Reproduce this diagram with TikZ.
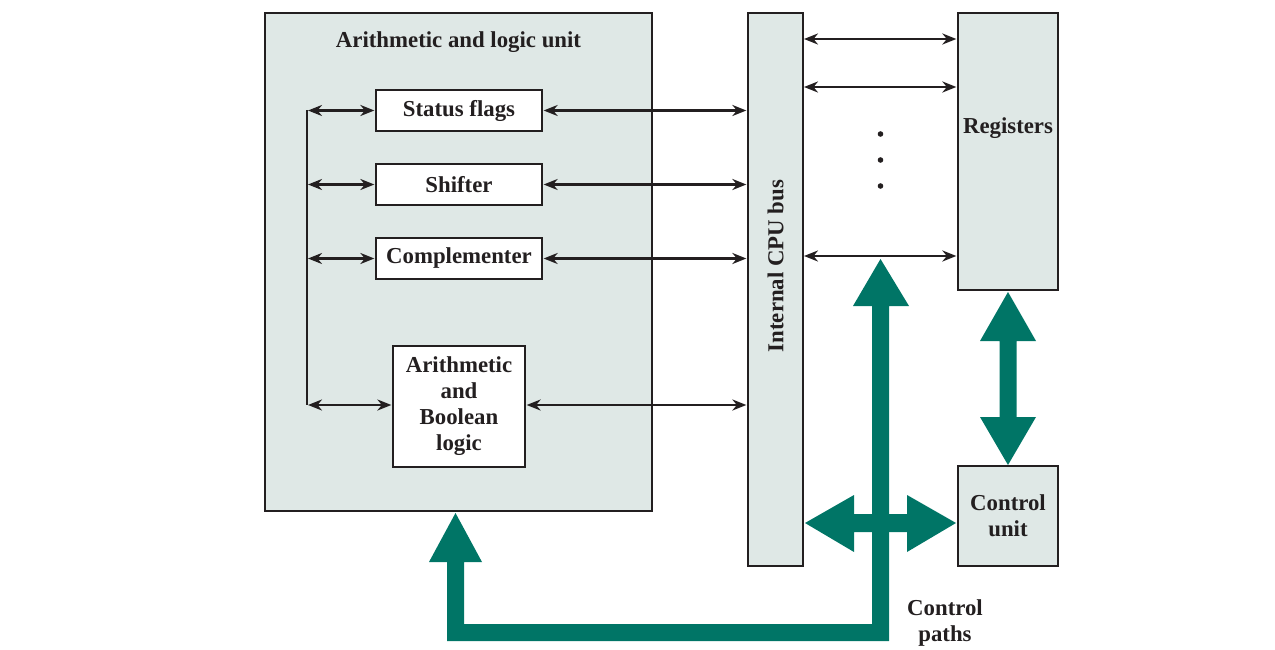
\documentclass[tikz,border=0pt]{standalone}
\usepackage{fontspec}
\setmainfont{Liberation Serif}
\usetikzlibrary{arrows.meta}
\definecolor{panel}{HTML}{DFE8E6}
\definecolor{ctrl}{HTML}{007566}
\definecolor{ink}{HTML}{231F20}
\begin{document}
\begin{tikzpicture}[x=1pt,y=-1pt,
  every node/.style={font=\fontsize{22.8}{26}\selectfont\bfseries, text=ink},
  blk/.style={draw=ink, line width=1.3pt, inner sep=0pt, align=center},
  gray/.style={blk, fill=panel},
  white/.style={blk, fill=white},
  bi/.style={ink, line width=2.2pt, {Stealth[length=14pt,width=11pt,inset=4.5pt]}-{Stealth[length=14pt,width=11pt,inset=4.5pt]}, shorten <=1pt, shorten >=1pt}]
\useasboundingbox (0,0) rectangle (1275,650);
% main blocks
\node[gray, minimum width=387pt, minimum height=498pt] (alu) at (458.5,262) {};
\node (alut) at (458.5,42) {Arithmetic and logic unit};
\node[white, minimum width=166pt, minimum height=41pt] (sf) at (459,110.5) {Status flags};
\node[white, minimum width=166pt, minimum height=41pt] (sh) at (459,184.5) {Shifter};
\node[white, minimum width=166pt, minimum height=41pt] (cp) at (459,258.5) {Complementer};
\node[white, minimum width=132pt, minimum height=121pt] (ab) at (459,406.5) {Arithmetic\\and\\Boolean\\logic};
\node[gray, minimum width=55pt, minimum height=553pt] (bus) at (775.5,289.5) {};
\node[rotate=90] (bust) at (775.5,266) {Internal CPU bus};
\node[gray, minimum width=100pt, minimum height=277pt] (reg) at (1008,151.5) {};
\node (regt) at (1008,128) {Registers};
\node[gray, minimum width=100pt, minimum height=100pt] (cu) at (1008,516) {Control\\unit};
\node[align=center] (cpl) at (945,623) {Control\\paths};
% left internal bus line
\coordinate (lt) at (307,110.5);
\coordinate (lb) at (307,405);
\draw[ink, line width=1.3pt] (lt) -- (lb);
\draw[bi] (lt) -- (sf.west);
\draw[bi] (lt |- sh.west) -- (sh.west);
\draw[bi] (lt |- cp.west) -- (cp.west);
\draw[bi] (lb) -- (ab.west |- lb);
% to internal bus
\draw[bi] (sf.east) -- (bus.west |- sf.east);
\draw[bi] (sh.east) -- (bus.west |- sh.east);
\draw[bi] (cp.east) -- (bus.west |- cp.east);
\draw[bi] (ab.east |- lb) -- (bus.west |- lb);
% bus to registers
\coordinate (r1) at (803,39);
\coordinate (r2) at (803,87);
\coordinate (r3) at (803,256);
\draw[bi] (r1) -- (reg.west |- r1);
\draw[bi] (r2) -- (reg.west |- r2);
\draw[bi] (r3) -- (reg.west |- r3);
\foreach \yy in {134,160,186} \fill[ink] (880.5,\yy) circle (2.8pt);
% control paths
\fill[ctrl] (455.5,513) -- (482,562) -- (464,562) -- (464,624) -- (872,624) -- (872,306)
  -- (853,306) -- (880.5,259) -- (909,306) -- (889,306) -- (889,641) -- (447,641)
  -- (447,562) -- (429,562) -- cycle;
\fill[ctrl] (805,523) -- (854,495) -- (854,514) -- (907,514) -- (907,495) -- (956,523)
  -- (907,552) -- (907,532) -- (854,532) -- (854,552) -- cycle;
\fill[ctrl] (1008,292) -- (1036,341) -- (1016.5,341) -- (1016.5,417) -- (1036,417)
  -- (1008,465) -- (980,417) -- (999.5,417) -- (999.5,341) -- (980,341) -- cycle;
\end{tikzpicture}
\end{document}
